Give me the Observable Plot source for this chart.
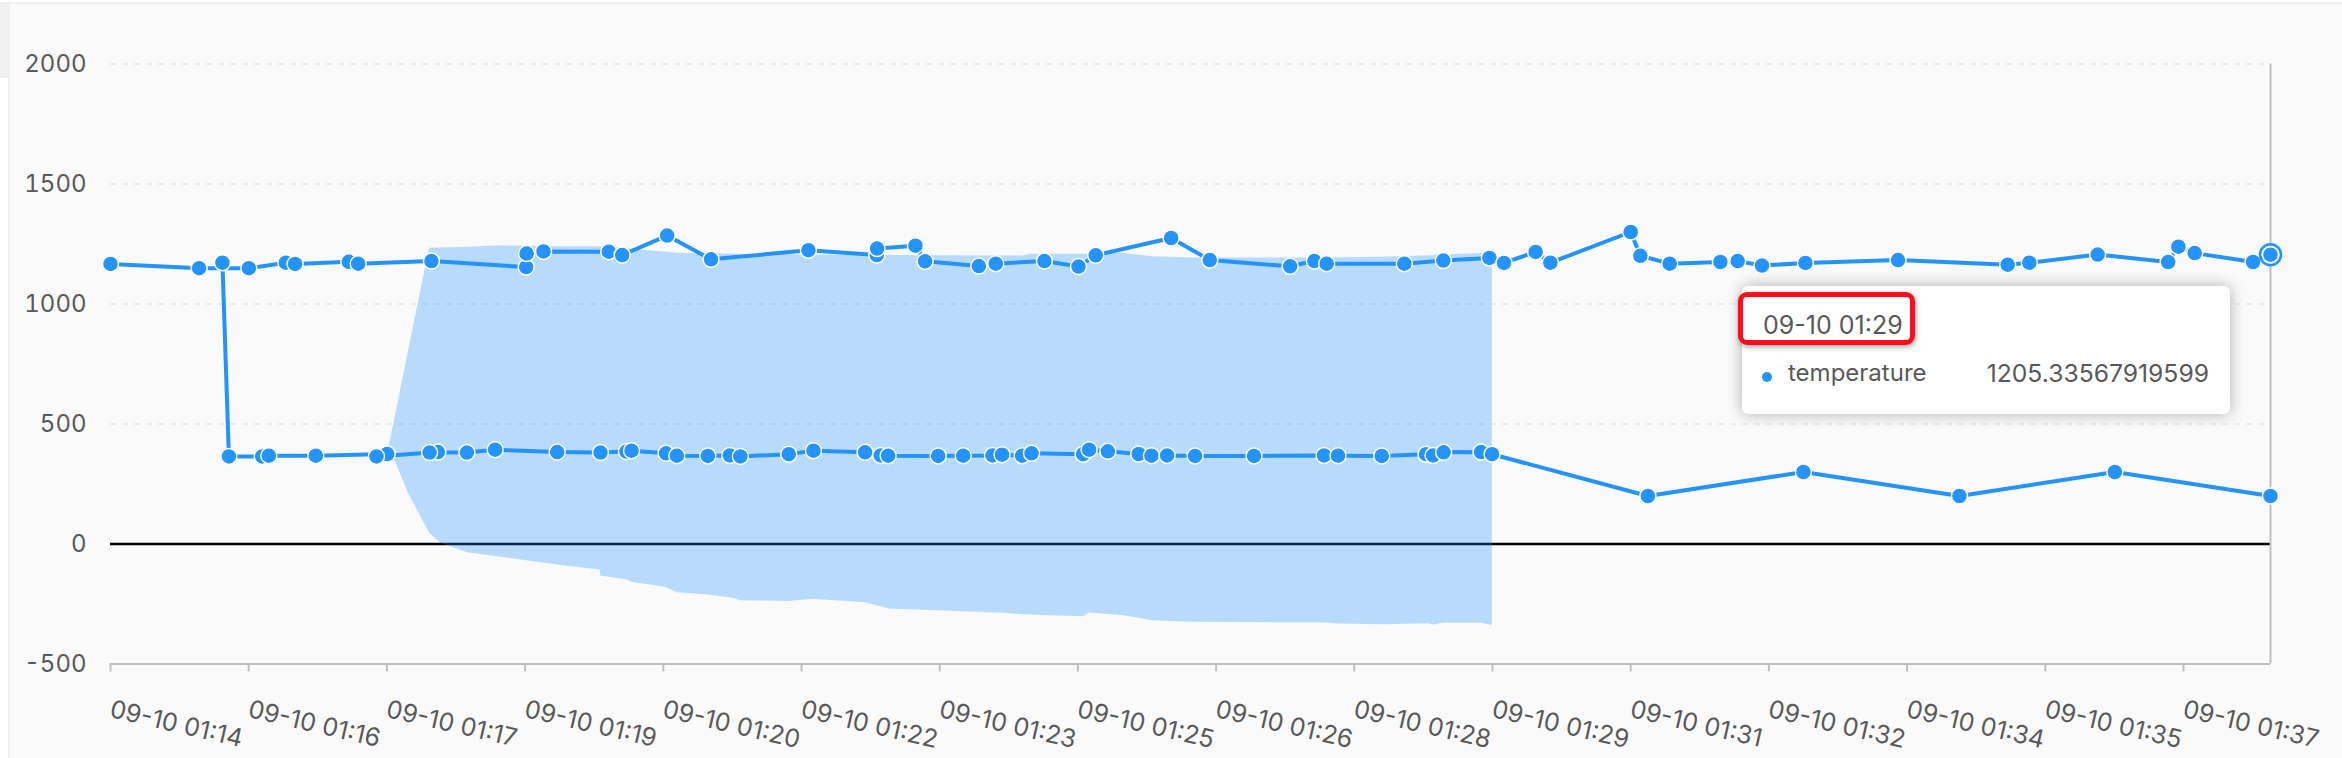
<!DOCTYPE html>
<html>
<head>
<meta charset="utf-8">
<script src="https://cdn.jsdelivr.net/npm/d3@7"></script>
<script src="https://cdn.jsdelivr.net/npm/@observablehq/plot@0.6"></script>
<style>
html,body{margin:0;padding:0;width:2342px;height:758px;overflow:hidden;background:#fff;font-family:Inter,"Noto Sans",sans-serif;}
#panel{position:absolute;left:10px;top:4px;width:2332px;height:754px;background:#fafafa;}
#strip{position:absolute;left:0;top:2px;width:2342px;height:2px;background:#f0f0f0;}
#side{position:absolute;left:0;top:2px;width:10px;height:76px;background:#f0f0f0;}
#edge{position:absolute;left:8px;top:78px;width:2px;height:680px;background:#f0f0f0;}
#chart{position:absolute;left:0;top:0;}
#tip{position:absolute;left:1742px;top:286px;width:488px;height:128px;background:#fff;border-radius:6px;box-shadow:0 0 15px rgb(174,174,174);color:#595959;font-size:24px;line-height:28px;}
#tip .t{position:absolute;left:21px;top:25px;white-space:nowrap;font-size:25px;}
#tip .d{position:absolute;left:20px;top:86px;width:10px;height:10px;border-radius:50%;background:#2593fc;}
#tip .n{position:absolute;left:46px;top:73px;}
#tip .v{position:absolute;right:21px;top:73px;font-size:24.7px;}
#mark{position:absolute;left:1738px;top:292px;width:167px;height:43px;border:5px solid #ff0d1d;border-radius:9px;box-shadow:1px 2px 5px rgba(0,0,0,.35);}
</style>
</head>
<body>
<div id="panel"></div><div id="strip"></div><div id="side"></div><div id="edge"></div>
<div id="chart"></div>
<div id="tip"><div class="t">09-10 01:29</div><div class="d"></div><div class="n">temperature</div><div class="v">1205.33567919599</div></div>
<div id="mark"></div>
<script>
// seconds after 01:14:40 on 09-10
const upperSeconds = [0,57.7,90.1,114.2,120.2,155.2,161.3,209,270.7,271,282,324.5,333.2,362.5,391.1,454.5,499,499.2,524.2,530.5,565.5,576.5,608.2,630.4,641.6,690.7,715.9,768.2,784,792,842.6,868,898,907.5,928.1,937.7,990,996.3,1015.4,1048.4,1059.7,1075.5,1103.8,1164.1,1235.5,1249.6,1294.1,1340,1346.7,1357.3,1395.3,1406.66];
const upperValues = [1167,1149,1149,1172,1167,1176,1168,1179,1154,1210,1219,1218,1204,1285,1186,1224,1204,1231,1243,1178,1158,1168,1179,1156,1203,1275,1183,1157,1179,1168,1168,1181,1192,1171,1217,1172,1300,1201,1168,1175,1179,1160,1171,1183,1164,1172,1206,1175,1239,1212,1175,1205.34];
const lowerSeconds = [72.9,77.1,98.8,103.1,133.7,180.2,173.2,213.2,207.8,232.1,250.5,290.9,319.1,336,339.3,361.8,368.8,389,403.3,410.2,441.7,457.8,491.4,501.6,506.4,539,555.3,574.4,580.6,593.7,599.8,633.4,637.3,649.5,669.6,677.9,688.1,706.3,744.7,790.3,799.4,827.9,856.7,861.3,868.2,892.5,899.7,1001.2,1102.5,1204.1,1305.3,1406.66];
const lowerValues = [1172,365,365,368,368,375,365,383,381,381,393,383,381,385,389,378,368,367,369,365,374,389,382,369,368,367,368,369,372,368,378,374,393,386,375,368,369,367,367,369,368,367,374,369,382,383,374,200,300,200,300,200];
const bandSeconds = [181.5,194,207.7,214.9,232.5,250.7,291.1,319.1,319.2,336.7,339.9,361.4,369.2,388.8,403.8,410.9,441.5,457.8,491.7,507.3,582.2,593.9,599.1,633.6,637.5,658.4,668.8,678.6,705.3,791.3,799.7,828.4,858.3,861.5,868,892.8,899.9];
const bandHigh = [405,801,1232,1233,1236,1242,1239,1239,1239,1233,1227,1217,1211,1208,1208,1206,1205,1204,1203,1202,1200,1200,1207,1207,1208,1211,1204,1197,1192,1192,1193,1195,1201,1202,1204,1210,1211];
const bandLow = [405,212,46,4,-36,-52,-88,-108,-133,-150,-160,-180,-203,-213,-224,-236,-240,-230,-245,-271,-289,-295,-296,-303,-288,-298,-308,-320,-326,-329,-333,-336,-332,-338,-330,-330,-340];
const tickSeconds = [0,90,180,270,360,450,540,630,720,810,900,990,1080,1170,1260,1350];
const tickLabels = ["09-10 01:14","09-10 01:16","09-10 01:17","09-10 01:19","09-10 01:20","09-10 01:22","09-10 01:23","09-10 01:25","09-10 01:26","09-10 01:28","09-10 01:29","09-10 01:31","09-10 01:32","09-10 01:34","09-10 01:35","09-10 01:37"];
const yTicks = [-500,0,500,1000,1500,2000];
const gridTicks = [500,1000,1500,2000];
const domainEnd = 1406.66;
const activeSecond = 1406.66, activeValue = 1205.34;

const t0 = Date.UTC(2018,8,10,1,14,40);
const toDate = s => new Date(t0 + s*1000);
const pairs = (xs, ys) => xs.map((s,i)=>({t:toDate(s), v:ys[i]}));
const upper = pairs(upperSeconds, upperValues);
const lower = pairs(lowerSeconds, lowerValues);
const band = bandSeconds.map((s,i)=>({t:toDate(s), lo:bandLow[i], hi:bandHigh[i]}));
const tickDates = tickSeconds.map(toDate);
const labelOf = new Map(tickDates.map((d,i)=>[+d,tickLabels[i]]));
const blue = "#2593fc";
const end = toDate(domainEnd);

const plot = Plot.plot({
  width:2342, height:758,
  marginLeft:110, marginRight:72, marginTop:63.5, marginBottom:94.5,
  style:{background:"transparent", fontFamily:"Inter, 'Noto Sans', sans-serif", fontSize:"24px", color:"#595959"},
  x:{type:"utc", domain:[toDate(0), end]},
  y:{domain:[-500,2000]},
  marks:[
    Plot.ruleY(gridTicks,{stroke:"#e8e8e8", strokeWidth:1.5, strokeDasharray:"6,6"}),
    Plot.ruleY([0],{stroke:"#000", strokeWidth:2.5}),
    Plot.areaY(band,{x:"t", y1:"lo", y2:"hi", fill:"#1890ff", fillOpacity:0.29, curve:"linear"}),
    Plot.ruleY([-500],{stroke:"#bfbfbf", strokeWidth:2}),
    Plot.ruleX([end],{stroke:"#bfbfbf", strokeWidth:2}),
    Plot.axisY({ticks:yTicks, tickSize:0, tickPadding:24, fill:"#595959", label:null, fontSize:24, tickFormat:d=>String(d)}),
    Plot.axisX({ticks:tickDates, tickSize:8, stroke:"#bfbfbf", strokeWidth:2, text:null, label:null, fill:"#595959"}),
    Plot.text(tickDates,{x:d=>d, frameAnchor:"bottom", dy:45, text:d=>labelOf.get(+d), rotate:13, textAnchor:"start", lineAnchor:"middle", fill:"#595959", fontSize:25}),
    Plot.line(lower,{x:"t", y:"v", stroke:blue, strokeWidth:4}),
    Plot.line(upper,{x:"t", y:"v", stroke:blue, strokeWidth:4}),
    Plot.dot(lower,{x:"t", y:"v", r:8, fill:blue, stroke:"#fff", strokeWidth:1.5}),
    Plot.dot(upper,{x:"t", y:"v", r:8, fill:blue, stroke:"#fff", strokeWidth:1.5}),
    Plot.dot([{t:toDate(activeSecond), v:activeValue}],{x:"t", y:"v", r:10.5, fill:"none", stroke:blue, strokeWidth:2.5})
  ]
});
document.getElementById("chart").appendChild(plot);
</script>
</body>
</html>
